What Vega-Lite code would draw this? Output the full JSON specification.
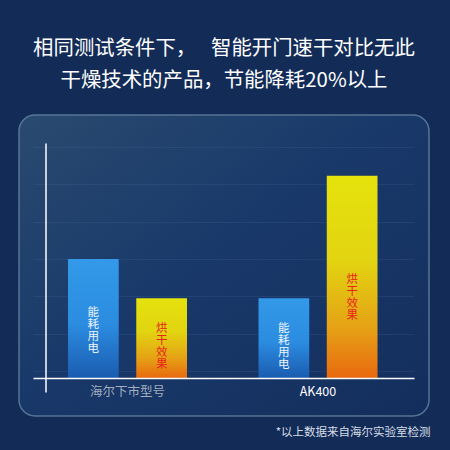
{
  "$schema": "https://vega.github.io/schema/vega-lite/v6.json",
  "width": 410,
  "height": 301,
  "autosize": {"type": "none"},
  "padding": {"left": 19, "top": 115, "right": 21, "bottom": 34},
  "background": "#132c57",
  "title": {
    "text": ["相同测试条件下，　 智能开门速干对比无此", "干燥技术的产品，节能降耗20%以上"],
    "font": "Noto Sans CJK SC",
    "fontSize": 20.4,
    "fontWeight": "normal",
    "color": "#ffffff",
    "lineHeight": 32,
    "anchor": "middle",
    "frame": "group",
    "offset": 24
  },
  "data": {
    "values": [
      {"model": "海尔下市型号", "metric": "能耗用电", "value": 100},
      {"model": "海尔下市型号", "metric": "烘干效果", "value": 67},
      {"model": "AK400", "metric": "能耗用电", "value": 67},
      {"model": "AK400", "metric": "烘干效果", "value": 170}
    ]
  },
  "encoding": {
    "x": {
      "field": "model",
      "type": "nominal",
      "sort": ["海尔下市型号", "AK400"],
      "scale": {"range": [14, 395], "paddingInner": 0.3753, "paddingOuter": 0.1876, "align": 0.4895},
      "axis": {
        "orient": "bottom",
        "offset": -38,
        "zindex": 1,
        "domainColor": "#ffffff",
        "domainWidth": 1.5,
        "ticks": false,
        "labelAngle": 0,
        "labelPadding": 7,
        "labelFontSize": 12.5,
        "labelColor": {"condition": {"test": "datum.value === 'AK400'", "value": "#ffffff"}, "value": "#a3aec0"},
        "title": "*以上数据来自海尔实验室检测",
        "titleFontSize": 11.5,
        "titleFontWeight": "normal",
        "titleColor": "#d7dee8",
        "titleAnchor": null,
        "titleAlign": "right",
        "titleBaseline": "middle",
        "titleX": 411,
        "titleY": 54
      }
    },
    "xOffset": {
      "field": "metric",
      "type": "nominal",
      "scale": {"domain": ["能耗用电", "烘干效果"], "paddingInner": 0.257, "paddingOuter": 0}
    },
    "y": {
      "field": "value",
      "type": "quantitative",
      "scale": {"domain": [-11.76, 197.5], "range": [277, 28], "nice": false, "zero": false},
      "axis": {
        "orient": "left",
        "offset": -26.5,
        "domainColor": "#ffffff",
        "domainWidth": 1.5,
        "ticks": false,
        "labels": false,
        "title": null,
        "grid": true,
        "values": [6, 37, 68.5, 100, 131.5, 163, 194.5],
        "gridColor": "#5a7eb0",
        "gridOpacity": 0.17,
        "gridWidth": 1
      }
    }
  },
  "layer": [
    {
      "transform": [{"filter": "datum.metric === '能耗用电'"}],
      "mark": {
        "type": "bar",
        "fill": {
          "gradient": "linear",
          "x1": 0, "y1": 0, "x2": 0, "y2": 1,
          "stops": [
            {"offset": 0, "color": "#3399e8"},
            {"offset": 0.55, "color": "#2b8ce0"},
            {"offset": 1, "color": "#1a5cb0"}
          ]
        }
      },
      "encoding": {"y2": {"datum": 0}}
    },
    {
      "transform": [{"filter": "datum.metric === '烘干效果'"}],
      "mark": {
        "type": "bar",
        "fill": {
          "gradient": "linear",
          "x1": 0, "y1": 0, "x2": 0, "y2": 1,
          "stops": [
            {"offset": 0, "color": "#e5e20c"},
            {"offset": 0.42, "color": "#e2d411"},
            {"offset": 0.75, "color": "#e5a215"},
            {"offset": 1, "color": "#e8690f"}
          ]
        }
      },
      "encoding": {"y2": {"datum": 0}}
    },
    {
      "transform": [
        {"calculate": "split(datum.metric, '')", "as": "chars"},
        {"calculate": "datum.value * 0.4", "as": "label_y"}
      ],
      "mark": {"type": "text", "fontSize": 11.5, "lineHeight": 12, "baseline": "top", "align": "center", "dy": -23},
      "encoding": {
        "y": {"field": "label_y", "type": "quantitative"},
        "text": {"field": "chars"},
        "color": {
          "condition": {"test": "datum.metric === '能耗用电'", "value": "#eef4fb"},
          "value": "#e8231a"
        }
      }
    }
  ],
  "config": {
    "font": "Noto Sans CJK SC",
    "view": {
      "stroke": "#62809f",
      "strokeWidth": 1.5,
      "strokeOpacity": 0.85,
      "cornerRadius": 16,
      "fill": {
        "gradient": "linear",
        "x1": 0, "y1": 0, "x2": 1, "y2": 1,
        "stops": [
          {"offset": 0, "color": "#2a4a70"},
          {"offset": 0.45, "color": "#19396a"},
          {"offset": 1, "color": "#132e5c"}
        ]
      }
    }
  }
}
